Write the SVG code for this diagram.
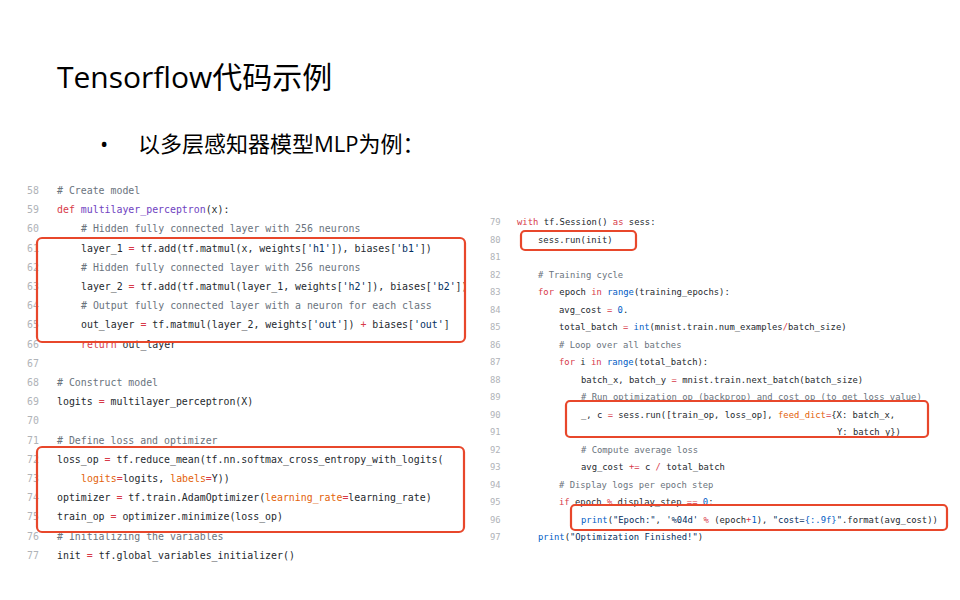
<svg xmlns="http://www.w3.org/2000/svg" width="960" height="600" viewBox="0 0 960 600">
<style>
.t{font-family:"Open Sans","Noto Sans CJK SC",sans-serif;fill:#000}
.c{font-family:"DejaVu Sans Mono","Liberation Mono",monospace;fill:#24292e;white-space:pre}
.L{font-size:9.9px}.R{font-size:8.85px}
.n{fill:#b0b3b8}.k{fill:#d73a49}.f{fill:#6f42c1}.s{fill:#032f62}.m{fill:#6a737d}.b{fill:#005cc5}.o{fill:#e36209}
.box{fill:none;stroke:#e8472b;stroke-width:2.2}
</style>
<rect width="960" height="600" fill="#fff"/>
<g id="title"><text class="t" x="57" y="88" font-size="30">Tensorflow代码示例</text></g>
<g id="bullet"><text class="t" x="100" y="152" font-size="22">•</text><text class="t" x="138" y="152" font-size="22">以多层感知器模型MLP为例：</text></g>
<g id="left-code" class="c L">
<text class="c L n" x="27" y="194">58</text><text class="c L m" x="57" y="194"># Create model</text>
<text class="c L n" x="27" y="213">59</text><text class="c L" x="57" y="213"><tspan class="k">def</tspan> <tspan class="f">multilayer_perceptron</tspan>(x):</text>
<text class="c L n" x="27" y="232">60</text><text class="c L m" x="81" y="232"># Hidden fully connected layer with 256 neurons</text>
<text class="c L n" x="27" y="252">61</text><text class="c L" x="81" y="252">layer_1 <tspan class="k">=</tspan> tf.add(tf.matmul(x, weights[<tspan class="s">'h1'</tspan>]), biases[<tspan class="s">'b1'</tspan>])</text>
<text class="c L n" x="27" y="271">62</text><text class="c L m" x="81" y="271"># Hidden fully connected layer with 256 neurons</text>
<text class="c L n" x="27" y="290">63</text><text class="c L" x="81" y="290">layer_2 <tspan class="k">=</tspan> tf.add(tf.matmul(layer_1, weights[<tspan class="s">'h2'</tspan>]), biases[<tspan class="s">'b2'</tspan>])</text>
<text class="c L n" x="27" y="309">64</text><text class="c L m" x="81" y="309"># Output fully connected layer with a neuron for each class</text>
<text class="c L n" x="27" y="328">65</text><text class="c L" x="81" y="328">out_layer <tspan class="k">=</tspan> tf.matmul(layer_2, weights[<tspan class="s">'out'</tspan>]) <tspan class="k">+</tspan> biases[<tspan class="s">'out'</tspan>]</text>
<text class="c L n" x="27" y="348">66</text><text class="c L" x="81" y="348"><tspan class="k">return</tspan> out_layer</text>
<text class="c L n" x="27" y="367">67</text>
<text class="c L n" x="27" y="386">68</text><text class="c L m" x="57" y="386"># Construct model</text>
<text class="c L n" x="27" y="405">69</text><text class="c L" x="57" y="405">logits <tspan class="k">=</tspan> multilayer_perceptron(X)</text>
<text class="c L n" x="27" y="424">70</text>
<text class="c L n" x="27" y="444">71</text><text class="c L m" x="57" y="444"># Define loss and optimizer</text>
<text class="c L n" x="27" y="463">72</text><text class="c L" x="57" y="463">loss_op <tspan class="k">=</tspan> tf.reduce_mean(tf.nn.softmax_cross_entropy_with_logits(</text>
<text class="c L n" x="27" y="482">73</text><text class="c L" x="81" y="482"><tspan class="o">logits</tspan><tspan class="k">=</tspan>logits, <tspan class="o">labels</tspan><tspan class="k">=</tspan>Y))</text>
<text class="c L n" x="27" y="501">74</text><text class="c L" x="57" y="501">optimizer <tspan class="k">=</tspan> tf.train.AdamOptimizer(<tspan class="o">learning_rate</tspan><tspan class="k">=</tspan>learning_rate)</text>
<text class="c L n" x="27" y="520">75</text><text class="c L" x="57" y="520">train_op <tspan class="k">=</tspan> optimizer.minimize(loss_op)</text>
<text class="c L n" x="27" y="540">76</text><text class="c L m" x="57" y="540"># Initializing the variables</text>
<text class="c L n" x="27" y="559">77</text><text class="c L" x="57" y="559">init <tspan class="k">=</tspan> tf.global_variables_initializer()</text>
</g>
<g id="right-code">
<text class="c R n" x="490" y="225">79</text><text class="c R" x="517" y="225"><tspan class="k">with</tspan> tf.Session() <tspan class="k">as</tspan> sess:</text>
<text class="c R n" x="490" y="243">80</text><text class="c R" x="538" y="243">sess.run(init)</text>
<text class="c R n" x="490" y="260">81</text>
<text class="c R n" x="490" y="278">82</text><text class="c R m" x="538" y="278"># Training cycle</text>
<text class="c R n" x="490" y="295">83</text><text class="c R" x="538" y="295"><tspan class="k">for</tspan> epoch <tspan class="k">in</tspan> <tspan class="b">range</tspan>(training_epochs):</text>
<text class="c R n" x="490" y="313">84</text><text class="c R" x="559" y="313">avg_cost <tspan class="k">=</tspan> <tspan class="b">0</tspan>.</text>
<text class="c R n" x="490" y="330">85</text><text class="c R" x="559" y="330">total_batch <tspan class="k">=</tspan> <tspan class="b">int</tspan>(mnist.train.num_examples<tspan class="k">/</tspan>batch_size)</text>
<text class="c R n" x="490" y="348">86</text><text class="c R m" x="559" y="348"># Loop over all batches</text>
<text class="c R n" x="490" y="365">87</text><text class="c R" x="559" y="365"><tspan class="k">for</tspan> i <tspan class="k">in</tspan> <tspan class="b">range</tspan>(total_batch):</text>
<text class="c R n" x="490" y="383">88</text><text class="c R" x="581" y="383">batch_x, batch_y <tspan class="k">=</tspan> mnist.train.next_batch(batch_size)</text>
<text class="c R n" x="490" y="400">89</text><text class="c R m" x="581" y="400"># Run optimization op (backprop) and cost op (to get loss value)</text>
<text class="c R n" x="490" y="418">90</text><text class="c R" x="581" y="418">_, c <tspan class="k">=</tspan> sess.run([train_op, loss_op], <tspan class="o">feed_dict</tspan><tspan class="k">=</tspan>{X: batch_x,</text>
<text class="c R n" x="490" y="435">91</text><text class="c R" x="837" y="435">Y: batch_y})</text>
<text class="c R n" x="490" y="453">92</text><text class="c R m" x="581" y="453"># Compute average loss</text>
<text class="c R n" x="490" y="470">93</text><text class="c R" x="581" y="470">avg_cost <tspan class="k">+=</tspan> c <tspan class="k">/</tspan> total_batch</text>
<text class="c R n" x="490" y="488">94</text><text class="c R m" x="559" y="488"># Display logs per epoch step</text>
<text class="c R n" x="490" y="505">95</text><text class="c R" x="559" y="505"><tspan class="k">if</tspan> epoch <tspan class="k">%</tspan> display_step <tspan class="k">==</tspan> <tspan class="b">0</tspan>:</text>
<text class="c R n" x="490" y="523">96</text><text class="c R" x="581" y="523"><tspan class="b">print</tspan>(<tspan class="s">"Epoch:"</tspan>, <tspan class="s">'%04d'</tspan> <tspan class="k">%</tspan> (epoch<tspan class="k">+</tspan><tspan class="b">1</tspan>), <tspan class="s">"cost=</tspan><tspan class="b">{:.9f}</tspan><tspan class="s">"</tspan>.format(avg_cost))</text>
<text class="c R n" x="490" y="540">97</text><text class="c R" x="538" y="540"><tspan class="b">print</tspan>(<tspan class="s">"Optimization Finished!"</tspan>)</text>
</g>
<g id="highlights">
<rect class="box" x="37" y="238" width="428" height="104" rx="5"/>
<rect class="box" x="37" y="447" width="427" height="85" rx="5"/>
<rect class="box" x="521" y="231" width="115" height="19" rx="4"/>
<rect class="box" x="566" y="401" width="362" height="36" rx="4"/>
<rect class="box" x="571" y="505" width="376" height="25" rx="4"/>
</g>
</svg>
